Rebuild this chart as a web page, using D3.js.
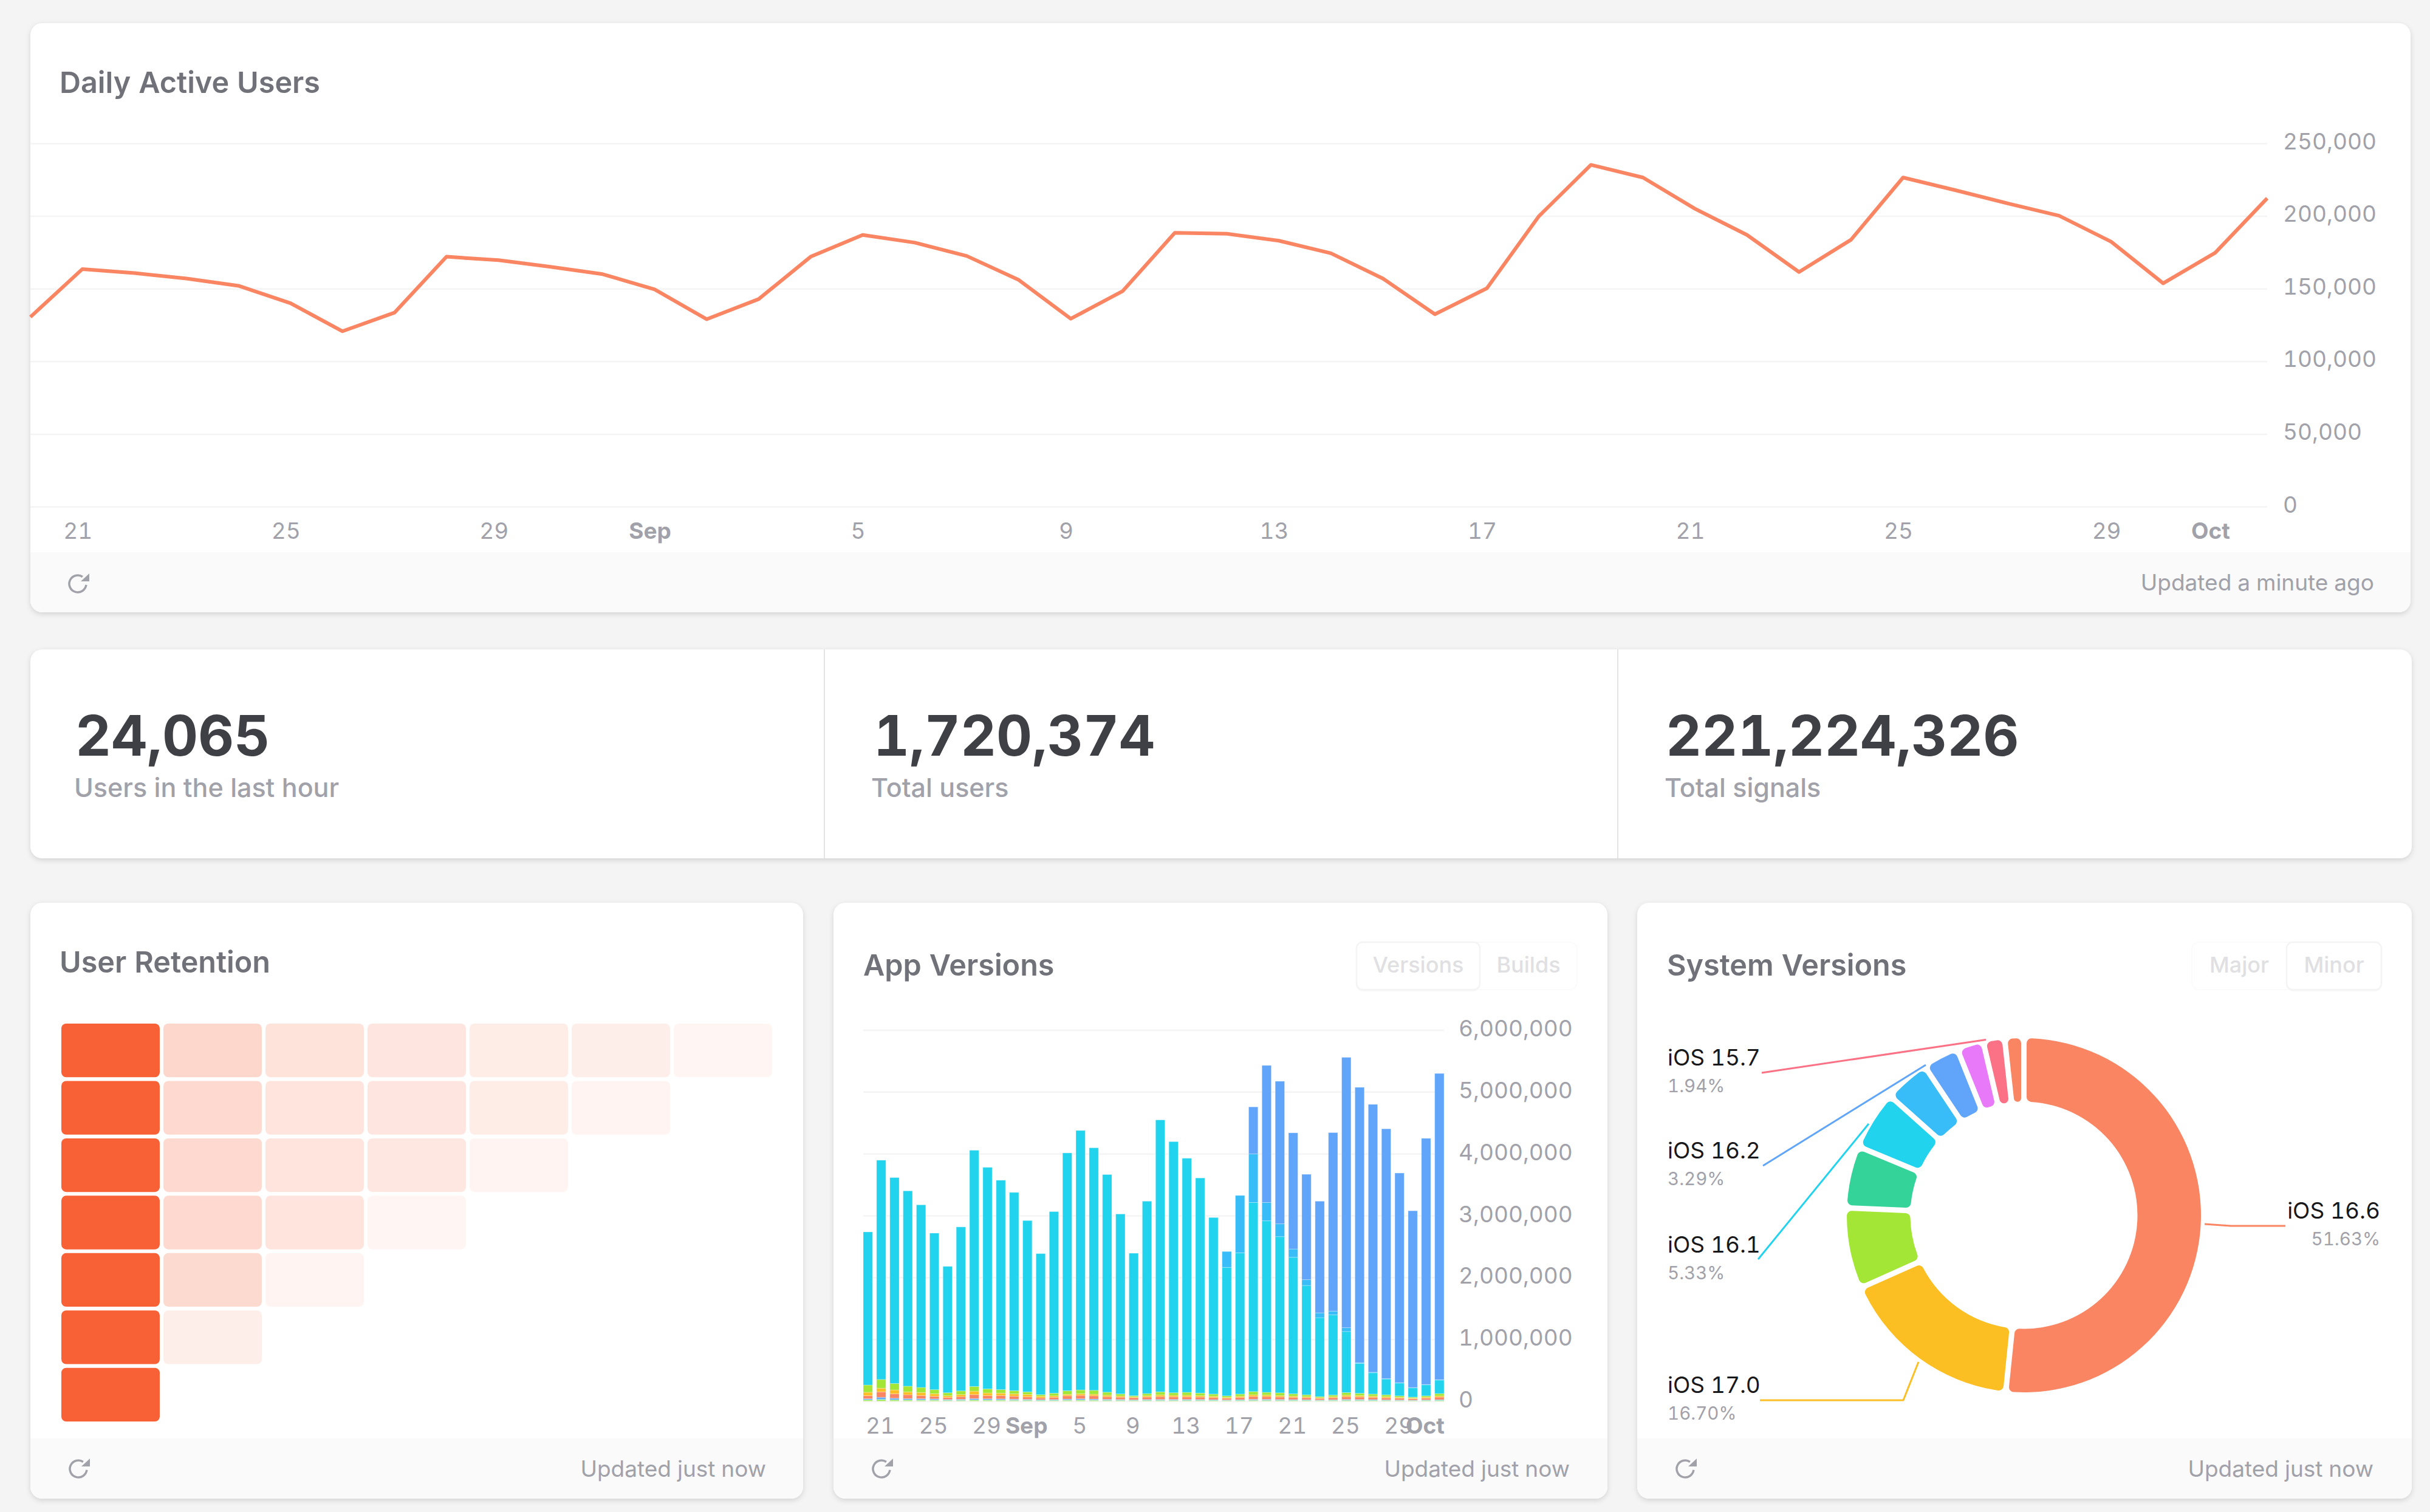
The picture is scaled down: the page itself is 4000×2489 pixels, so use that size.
<!DOCTYPE html>
<html><head><meta charset="utf-8">
<script src="https://cdnjs.cloudflare.com/ajax/libs/d3/7.8.5/d3.min.js"></script>
<style>html,body{margin:0;background:#f4f4f5}svg{display:block}text{font-family:Inter,sans-serif;font-variant-numeric:tabular-nums;font-feature-settings:"tnum"}</style>
</head><body><svg id="c" width="4000" height="2489"></svg>
<script>
// ---------- data ----------
const days=["08-20","08-21","08-22","08-23","08-24","08-25","08-26","08-27","08-28","08-29","08-30","08-31","09-01","09-02","09-03","09-04","09-05","09-06","09-07","09-08","09-09","09-10","09-11","09-12","09-13","09-14","09-15","09-16","09-17","09-18","09-19","09-20","09-21","09-22","09-23","09-24","09-25","09-26","09-27","09-28","09-29","09-30","10-01","10-02"];
const tickDays=["08-21","08-25","08-29","09-01","09-05","09-09","09-13","09-17","09-21","09-25","09-29","10-01"];
const tickLabels=["21","25","29","Sep","5","9","13","17","21","25","29","Oct"];
const dailyUsers=[130500,163500,160700,157000,152000,140000,120700,133500,172000,169600,165000,160000,149500,129000,142800,172000,187000,181700,172500,156000,129300,148400,188400,187800,183000,174400,157000,132400,150300,199900,235200,226500,205000,187000,161500,183700,226500,217800,208800,200200,182300,153700,174700,212200];
const dauTicks=[0,50000,100000,150000,200000,250000];
const stats=[["24,065","Users in the last hour"],["1,720,374","Total users"],["221,224,326","Total signals"]];
const retention=[[1,.25,.175,.16,.12,.11,.06],[1,.24,.17,.16,.12,.07],[1,.24,.17,.15,.07],[1,.24,.17,.06],[1,.23,.07],[1,.11],[1]];
// app version stacks, bottom to top, in thousands of users
const vLime0=[16,20,15,14,13,13,10,11,14,13,13,11,11,9,9,12,13,12,11,10,8,10,10,10,10,10,9,8,9,11,11,10,10,9,7,9,10,10,9,8,7,6,8,9];
const vEmerald=[9,13,10,9,9,8,7,7,9,9,8,8,7,6,7,8,9,8,7,7,6,7,7,7,7,7,6,5,6,7,7,7,6,6,5,6,7,7,6,5,5,4,6,6];
const vBlue0=[14,29,22,18,17,15,10,13,18,16,15,13,11,9,10,14,16,14,12,10,8,10,11,11,11,10,9,7,9,12,12,10,9,8,7,8,11,10,10,8,7,6,7,9];
const vCoral=[49,88,72,62,52,42,33,42,65,52,55,49,42,29,36,52,55,52,42,36,33,39,45,42,42,38,34,26,34,46,44,40,36,32,24,32,44,40,36,32,28,22,28,40];
const vAmber=[55,59,62,46,49,42,26,33,55,42,39,36,36,26,23,23,26,26,23,20,13,20,27,24,24,22,20,13,20,26,24,22,20,17,12,16,24,22,20,18,14,12,15,20];
const vLime1=[117,141,104,92,81,65,49,59,76,65,56,52,42,26,43,59,62,62,49,33,19,36,50,41,48,43,36,26,36,52,44,45,37,30,18,27,42,37,33,31,24,15,21,38];
const vCyan=[2475,3545,3329,3158,2952,2531,2043,2651,3818,3582,3385,3205,2770,2280,2936,3844,4194,3921,3519,2909,2304,3110,4396,4060,3784,3477,2854,2078,2284,3057,2773,2525,2207,1768,1277,1296,988,484,345,256,208,150,179,219];
const vSky=[0,0,0,0,0,0,0,0,0,0,0,0,0,0,0,0,0,0,0,0,0,0,0,0,0,0,0,256,927,785,296,207,134,93,77,61,61,12,8,6,5,4,5,6];
const vBlue1=[0,0,0,0,0,0,0,0,0,0,0,0,0,0,0,0,0,0,0,0,0,0,0,0,0,0,0,0,0,760,2216,2305,1878,1704,1805,2886,4370,4451,4330,4038,3389,2858,3979,4950];
const versionTicks=[0,1000000,2000000,3000000,4000000,5000000,6000000];
const osNames=["iOS 16.6","iOS 17.0","Lime","Emerald","iOS 16.1","Sky","iOS 16.2","Fuchsia","iOS 15.7","Coral"];
const osShare=[51.63,16.70,7.33,5.60,5.33,4.05,3.29,2.40,1.94,1.73];

// ---------- style ----------
const C={bg:"#f4f4f5",grid:"#f4f4f5",axis:"#a1a1aa",title:"#71717a",foot:"#fafafa",coral:"#fa8563",amber:"#fbbf24",lime:"#a3e635",emerald:"#34d399",cyan:"#22d3ee",sky:"#38bdf8",blue:"#60a5fa",fuchsia:"#e879f9",rose:"#fb7185",heat:"#f86035"};
const svg=d3.select("#c");
const defs=svg.append("defs");
const f=defs.append("filter").attr("id","sh").attr("x","-5%").attr("y","-5%").attr("width","110%").attr("height","110%");
f.append("feDropShadow").attr("dx",0).attr("dy",3).attr("stdDeviation",4).attr("flood-color","#000").attr("flood-opacity",.14);
const num=d3.format(",");

function card(x0,y0,x1,y1,footY){
  const g=svg.append("g");
  g.append("rect").attr("x",x0).attr("y",y0).attr("width",x1-x0).attr("height",y1-y0).attr("rx",20).attr("fill","#fff").attr("filter","url(#sh)");
  if(footY){
    const id="cp"+x0+"_"+y0;
    defs.append("clipPath").attr("id",id).append("rect").attr("x",x0).attr("y",y0).attr("width",x1-x0).attr("height",y1-y0).attr("rx",20);
    g.append("rect").attr("x",x0).attr("y",footY).attr("width",x1-x0).attr("height",y1-footY).attr("fill",C.foot).attr("clip-path",`url(#${id})`);
  }
  return g;
}
function title(t,x,y){svg.append("text").attr("x",x).attr("y",y).text(t).attr("font-size",48.5).attr("font-weight",600).attr("fill",C.title);}
function footer(t,xr,y,ix,iy){
  svg.append("text").attr("x",xr).attr("y",y).attr("text-anchor","end").text(t).attr("font-size",37).attr("font-weight",400).attr("fill",C.axis);
  const g=svg.append("g").attr("transform",`translate(${ix},${iy})`);
  g.append("path").attr("d",d3.arc()({innerRadius:14,outerRadius:14,startAngle:1.7,endAngle:2*Math.PI+.6})).attr("fill","none").attr("stroke",C.axis).attr("stroke-width",3.5);
  g.append("path").attr("d","M19,-17L19,-4L5,-4Z").attr("fill",C.axis);
}
function styleAxis(g,size){
  g.select(".domain").remove();
  g.selectAll(".tick text").attr("font-size",size).attr("fill",C.axis).attr("font-family","Inter,sans-serif");
}

// ---------- Daily Active Users ----------
card(50,38,3968,1008,909);
title("Daily Active Users",98,153);
const x1=d3.scalePoint().domain(days).range([50,3732]);
const y1=d3.scaleLinear().domain([0,250000]).range([834,236]);
svg.append("g").attr("transform","translate(50,0)").call(d3.axisRight(y1).tickValues(dauTicks).tickSize(3682).tickFormat(""))
  .call(g=>g.select(".domain").remove()).selectAll("line").attr("stroke",C.grid).attr("stroke-width",2.5);
svg.append("path").datum(dailyUsers).attr("fill","none").attr("stroke",C.coral).attr("stroke-width",6).attr("stroke-linejoin","round")
  .attr("d",d3.line().x((d,i)=>x1(days[i])).y(d=>y1(d)));
svg.append("g").attr("transform","translate(3758,0)").call(d3.axisRight(y1).tickValues(dauTicks).tickSize(0).tickPadding(0).tickFormat(num))
  .call(g=>styleAxis(g,37)).selectAll("text").attr("dy",null).attr("y",9);
svg.append("g").attr("transform","translate(-8,0)").call(g=>{
  g.append("g").attr("transform","translate(0,887)").call(d3.axisBottom(x1).tickValues(tickDays).tickSize(0).tickPadding(0).tickFormat((d,i)=>tickLabels[i]))
   .call(a=>styleAxis(a,37)).selectAll("text").attr("dy",null).attr("y",0).attr("font-weight",(d,i)=>/[a-z]/.test(tickLabels[i])?700:400);
});
footer("Updated a minute ago",3908,972,128,961);

// ---------- stats ----------
card(50,1069,3970,1413);
[1357,2663].forEach(x=>svg.append("line").attr("x1",x).attr("x2",x).attr("y1",1069).attr("y2",1413).attr("stroke","#e4e4e7").attr("stroke-width",2));
const statX=[124,1438,2742], statSubX=[122,1434,2740];
stats.forEach((s,i)=>{
  svg.append("text").attr("x",statX[i]).attr("y",1244).text(s[0]).attr("font-size",91.5).attr("font-weight",700).attr("fill","#3f3f46");
  svg.append("text").attr("x",statSubX[i]).attr("y",1312).text(s[1]).attr("font-size",43).attr("font-weight",500).attr("fill",C.axis);
});

// ---------- Retention ----------
card(50,1486,1322,2467,2368);
title("User Retention",98,1601);
const rx=d3.scaleBand().domain(d3.range(7)).range([101,1271]).paddingInner(.036);
const ry=d3.scaleBand().domain(d3.range(7)).range([1685,2340]).paddingInner(.065);
const op=d3.scaleLinear().domain([0,1]).range([0,1]);
retention.forEach((row,r)=>row.forEach((v,c)=>{
  svg.append("rect").attr("x",rx(c)).attr("y",ry(r)).attr("width",rx.bandwidth()).attr("height",ry.bandwidth()).attr("rx",8).attr("fill",C.heat).attr("fill-opacity",op(v));
}));
footer("Updated just now",1261,2431,129,2418);

// ---------- App Versions ----------
card(1372,1486,2646,2467,2368);
title("App Versions",1421,1606);
function seg(x0,xsplit,xEnd,labelA,labelB,active){
  const y=1551,h=78;
  svg.append("rect").attr("x",x0).attr("y",y).attr("width",xEnd-x0).attr("height",h).attr("rx",12).attr("fill","#fff").attr("stroke","#fbfbfb").attr("stroke-width",2);
  const ax=active===0?x0:xsplit, aw=active===0?xsplit-x0:xEnd-xsplit;
  svg.append("rect").attr("x",ax).attr("y",y+3).attr("width",aw).attr("height",h).attr("rx",10).attr("fill","#f7f7f8");
  svg.append("rect").attr("x",ax).attr("y",y).attr("width",aw).attr("height",h).attr("rx",10).attr("fill","#fff").attr("stroke","#f4f4f5").attr("stroke-width",2.5);
  [[labelA,(x0+xsplit)/2],[labelB,(xsplit+xEnd)/2]].forEach(([t,cx])=>svg.append("text").attr("x",cx).attr("y",1601).attr("text-anchor","middle").text(t).attr("font-size",36).attr("font-weight",500).attr("fill","#e0e0e3"));
}
seg(2233,2436,2596,"Versions","Builds",0);
const xb=d3.scaleBand().domain(days).range([1421,2377]).paddingInner(.3);
const yb=d3.scaleLinear().domain([0,6000000]).range([2306.5,1695.5]);
svg.append("g").attr("transform","translate(1421,0)").call(d3.axisRight(yb).tickValues(versionTicks).tickSize(956).tickFormat(""))
  .call(g=>g.select(".domain").remove()).selectAll("line").attr("stroke",C.grid).attr("stroke-width",2.5);
const table=days.map((d,i)=>({d,vLime0:vLime0[i],vEmerald:vEmerald[i],vBlue0:vBlue0[i],vCoral:vCoral[i],vAmber:vAmber[i],vLime1:vLime1[i],vCyan:vCyan[i],vSky:vSky[i],vBlue1:vBlue1[i]}));
const keys=["vLime0","vEmerald","vBlue0","vCoral","vAmber","vLime1","vCyan","vSky","vBlue1"];
const keyColor=d3.scaleOrdinal().domain(keys).range([C.lime,C.emerald,C.blue,C.coral,C.amber,C.lime,C.cyan,C.sky,C.blue]);
svg.append("g").selectAll("g").data(d3.stack().keys(keys)(table)).join("g").attr("fill",s=>keyColor(s.key))
  .selectAll("rect").data(s=>s.filter(p=>p[1]>p[0])).join("rect")
  .attr("x",p=>xb(p.data.d)).attr("width",xb.bandwidth())
  .attr("y",p=>yb(p[1]*1000)).attr("height",p=>yb(p[0]*1000)-yb(p[1]*1000))
  .attr("stroke","rgba(255,255,255,.3)").attr("stroke-width",1);
svg.append("g").attr("transform","translate(2401,0)").call(d3.axisRight(yb).tickValues(versionTicks).tickSize(0).tickPadding(0).tickFormat(num))
  .call(g=>styleAxis(g,37)).selectAll("text").attr("dy",null).attr("y",10);
svg.append("g").attr("transform","translate(-2,2360)").call(d3.axisBottom(d3.scalePoint().domain(days).range([xb(days[0])+xb.bandwidth()/2,xb(days[43])+xb.bandwidth()/2])).tickValues(tickDays).tickSize(0).tickPadding(0).tickFormat((d,i)=>tickLabels[i]))
  .call(a=>styleAxis(a,37)).selectAll("text").attr("dy",null).attr("y",0).attr("font-weight",(d,i)=>/[a-z]/.test(tickLabels[i])?700:400);
footer("Updated just now",2584,2431,1451,2418);

// ---------- System Versions ----------
card(2695,1486,3970,2467,2368);
title("System Versions",2744,1606);
seg(3608,3764,3920,"Major","Minor",1);
const colors=[C.coral,C.amber,C.lime,C.emerald,C.cyan,C.sky,C.blue,C.fuchsia,C.rose,C.coral];
const pie=d3.pie().sort(null)(osShare);
const arc=d3.arc().innerRadius(187).outerRadius(291.5).cornerRadius(8).padAngle(.026);
const cx=3331.5,cy=2000.5;
// labels: name index, text anchor position, leader polyline
const labelled=[
 {i:0,x:3918,y:2006,a:"end",leader:[[3629,2015],[3672,2018],[3762,2018]]},
 {i:1,x:2745,y:2293,a:"start",leader:[[3158,2242],[3133,2305],[2897,2305]]},
 {i:4,x:2745,y:2062,a:"start",leader:[[3076,1850],[2894,2073]]},
 {i:6,x:2745,y:1907,a:"start",leader:[[3170,1753],[2902,1919]]},
 {i:8,x:2745,y:1754,a:"start",leader:[[3269,1711.5],[2900,1766]]}];
labelled.forEach(l=>{
  svg.append("path").attr("d",d3.line()(l.leader)).attr("fill","none").attr("stroke",colors[l.i]).attr("stroke-width",3);
  svg.append("text").attr("x",l.x).attr("y",l.y).attr("text-anchor",l.a).text(osNames[l.i]).attr("font-size",37).attr("fill","#18181b");
  svg.append("text").attr("x",l.x).attr("y",l.y+44).attr("text-anchor",l.a).text(osShare[l.i].toFixed(2)+"%").attr("font-size",29.5).attr("fill",C.axis);
});
svg.append("g").attr("transform",`translate(${cx},${cy})`).selectAll("path").data(pie).join("path").attr("d",arc).attr("fill",(d,i)=>colors[i]);
footer("Updated just now",3907,2431,2774,2418);
</script></body></html>
